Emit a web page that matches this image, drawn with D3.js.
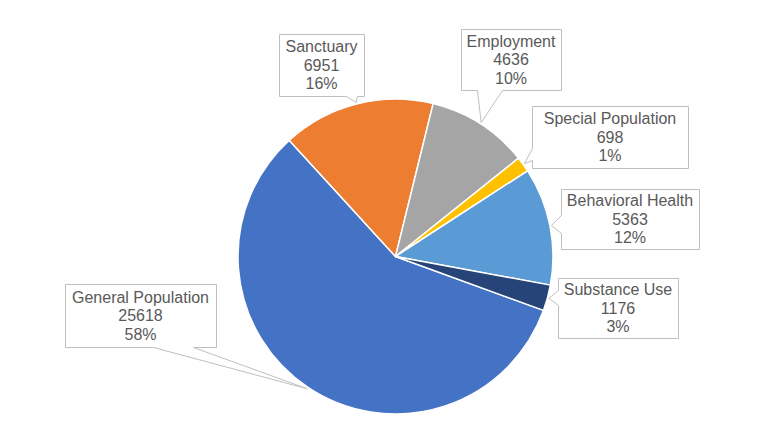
<!DOCTYPE html>
<html lang="en">
<head>
    <meta charset="UTF-8">
    <title>Population pie</title>
    <style>
        body { margin: 0; background: #fff; }
        svg { display: block; font-family: "Liberation Sans", Arial, sans-serif; }
    </style>
</head>
<body>
    <svg id="chart" width="768" height="445"></svg>

    <script src="https://d3js.org/d3.v7.min.js"></script>
    <script>
        // data, clockwise from the first slice
        const categories = ['General Population', 'Sanctuary', 'Employment', 'Special Population', 'Behavioral Health', 'Substance Use'];
        const values = [25618, 6951, 4636, 698, 5363, 1176];
        const pctLabels = ['58%', '16%', '10%', '1%', '12%', '3%'];
        const colors = ['#4472C4', '#ED7D31', '#A5A5A5', '#FFC000', '#5B9BD5', '#264478'];

        // callout boxes: side = where the pointer leaves the box, gap = pointer base along that side
        const callouts = [
            { x: 65,  y: 284, w: 151, h: 63, side: 'bottom', gap: [153, 193] },
            { x: 279, y: 34,  w: 85,  h: 62, side: 'bottom', gap: [346, 357] },
            { x: 461, y: 29,  w: 100, h: 61, side: 'bottom', gap: [477, 502] },
            { x: 532, y: 106, w: 156, h: 62, side: 'left',   gap: [148, 160] },
            { x: 561, y: 189, w: 138, h: 60, side: 'left',   gap: [215, 233] },
            { x: 558, y: 278, w: 120, h: 60, side: 'left',   gap: [290, 305] }
        ];

        const svg = d3.select('#chart');
        const cx = 395.5, cy = 256.5, r = 157.5;
        const start = 110 * Math.PI / 180;

        const pie = d3.pie().sort(null).value(d => d)
            .startAngle(start).endAngle(start + 2 * Math.PI);
        const arcs = pie(values);
        const arc = d3.arc().innerRadius(0).outerRadius(r);

        const g = svg.append('g').attr('transform', `translate(${cx},${cy})`);
        g.selectAll('path')
            .data(arcs)
            .join('path')
            .attr('d', arc)
            .attr('fill', (d, i) => colors[i])
            .attr('stroke', '#fff')
            .attr('stroke-width', 1.5)
            .attr('stroke-linejoin', 'round');

        // callouts
        const lab = svg.append('g');
        arcs.forEach((a, i) => {
            const c = callouts[i];
            const mid = (a.startAngle + a.endAngle) / 2;
            const tx = cx + (r + 1.5) * Math.sin(mid);
            const ty = cy - (r + 1.5) * Math.cos(mid);
            const x0 = c.x + 0.5, y0 = c.y + 0.5, x1 = c.x + c.w + 0.5, y1 = c.y + c.h + 0.5;
            let p;
            if (c.side === 'bottom') {
                p = `M${x0},${y0}H${x1}V${y1}H${c.gap[1] + 0.5}L${tx},${ty}L${c.gap[0] + 0.5},${y1}H${x0}Z`;
            } else {
                p = `M${x0},${y0}H${x1}V${y1}H${x0}V${c.gap[1] + 0.5}L${tx},${ty}L${x0},${c.gap[0] + 0.5}Z`;
            }
            lab.append('path')
                .attr('d', p)
                .attr('fill', '#fff')
                .attr('stroke', '#BFBFBF')
                .attr('stroke-width', 1);

            const lines = [categories[i], d3.format('d')(values[i]), pctLabels[i]];
            const lh = 18.6;
            const midY = c.y + c.h / 2;
            lab.append('text')
                .attr('x', c.x + c.w / 2)
                .attr('text-anchor', 'middle')
                .attr('fill', '#595959')
                .attr('font-size', 16)
                .selectAll('tspan')
                .data(lines)
                .join('tspan')
                .attr('x', c.x + c.w / 2)
                .attr('y', (d, k) => midY + (k - 1) * lh)
                .attr('dy', '0.36em')
                .text(d => d);
        });
    </script>
</body>
</html>
